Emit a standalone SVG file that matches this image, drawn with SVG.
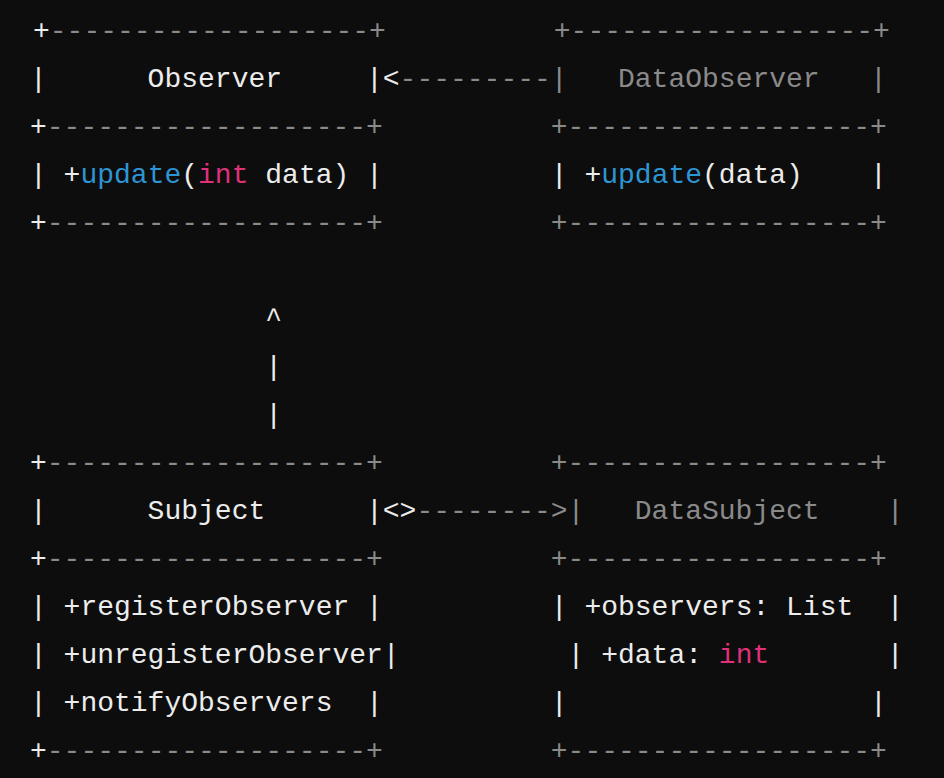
<svg xmlns="http://www.w3.org/2000/svg" width="944" height="778" viewBox="0 0 944 778" xml:space="preserve">
<style>
text{font-family:"Liberation Mono","DejaVu Sans Mono",monospace;font-size:28px;white-space:pre}
.w{fill:#ececec}.g{fill:#8a8a8a}.b{fill:#2e95d3}.p{fill:#df3079}
</style>
<rect width="944" height="778" fill="#0d0d0d"/>
<g id="observer">
<text x="33" y="39"><tspan class="w">+</tspan><tspan class="g">-------------------+</tspan></text>
<text x="30" y="87" class="w">|      Observer     |</text>
<text x="30" y="135"><tspan class="w">+</tspan><tspan class="g">-------------------+</tspan></text>
<text x="30" y="183" class="w">| +<tspan class="b">update</tspan>(<tspan class="p">int</tspan> data) |</text>
<text x="30" y="231"><tspan class="w">+</tspan><tspan class="g">-------------------+</tspan></text>
</g>
<g id="dataobserver">
<text x="553.8" y="39" class="g">+------------------+</text>
<text x="550.8" y="87" class="g">|   DataObserver   |</text>
<text x="550.8" y="135" class="g">+------------------+</text>
<text x="550.8" y="183" class="w">| +<tspan class="b">update</tspan>(data)    |</text>
<text x="550.8" y="231" class="g">+------------------+</text>
</g>
<g id="subject">
<text x="30" y="471"><tspan class="w">+</tspan><tspan class="g">-------------------+</tspan></text>
<text x="30" y="519" class="w">|      Subject      |</text>
<text x="30" y="567"><tspan class="w">+</tspan><tspan class="g">-------------------+</tspan></text>
<text x="30" y="615" class="w">| +registerObserver |</text>
<text x="30" y="663" class="w">| +unregisterObserver|</text>
<text x="30" y="711" class="w">| +notifyObservers  |</text>
<text x="30" y="759"><tspan class="w">+</tspan><tspan class="g">-------------------+</tspan></text>
</g>
<g id="datasubject">
<text x="550.8" y="471" class="g">+------------------+</text>
<text x="567.6" y="519" class="g">|   DataSubject    |</text>
<text x="550.8" y="567" class="g">+------------------+</text>
<text x="550.8" y="615" class="w">| +observers: List  |</text>
<text x="567.6" y="663" class="w">| +data: <tspan class="p">int</tspan>       |</text>
<text x="550.8" y="711" class="w">|                  |</text>
<text x="550.8" y="759" class="g">+------------------+</text>
</g>
<g id="connectors">
<text x="382.8" y="87"><tspan class="w">&lt;</tspan><tspan class="g">---------</tspan></text>
<text x="382.8" y="519"><tspan class="w">&lt;&gt;</tspan><tspan class="g">--------&gt;</tspan></text>
<text x="265.2" y="327" class="w">^</text>
<text x="265.2" y="375" class="w">|</text>
<text x="265.2" y="423" class="w">|</text>
</g>
</svg>
